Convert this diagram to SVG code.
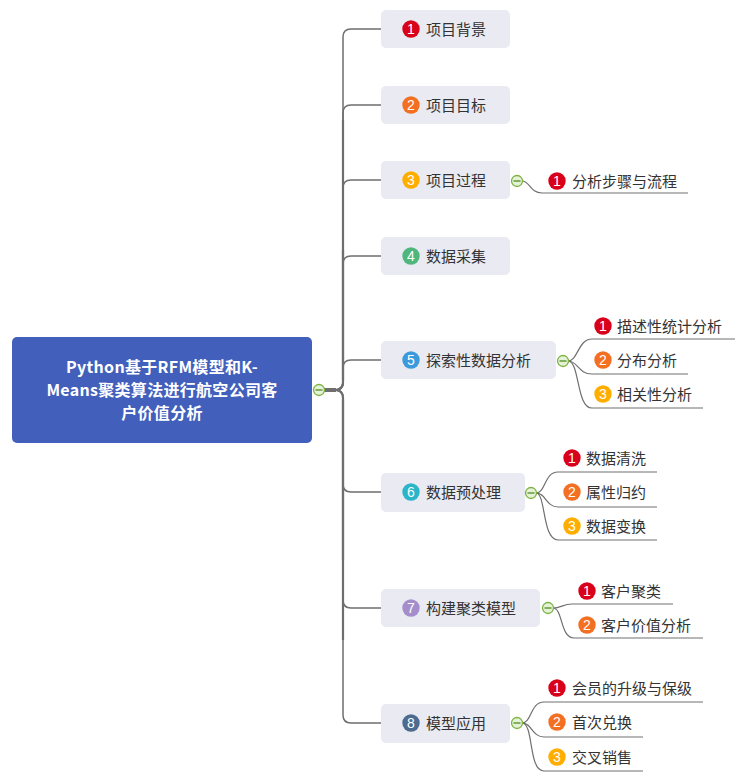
<svg xmlns="http://www.w3.org/2000/svg" width="752" height="782" viewBox="0 0 752 782">
<style>
.bg{fill:#ffffff}
.root{fill:#425FBC}
.rt{font-family:"Noto Sans CJK SC","Liberation Sans",sans-serif;font-size:16px;letter-spacing:0.3px;font-weight:bold;fill:#ffffff;text-anchor:middle}
.main{fill:#E9EAF2}
.t{font-family:"Noto Sans CJK SC","Liberation Sans",sans-serif;font-size:15px;fill:#333333}
.num{font-family:"Liberation Sans",sans-serif;font-size:14px;fill:#ffffff;text-anchor:middle}
.br{fill:none;stroke:#6e6e6e;stroke-width:1.5}
.trunk{fill:none;stroke:#6e6e6e;stroke-width:2.2}
.sub{fill:none;stroke:#707070;stroke-width:1.2}
.col{fill:#E6F2D8;stroke:#7CB342;stroke-width:1.3}
.mn{stroke:#4E8A1E;stroke-width:1.3}
.c1{fill:#D9001B}.c2{fill:#F36F21}.c3{fill:#FFAE00}.c4{fill:#4FB67D}.c5{fill:#3B9ADB}.c6{fill:#2AB5C9}.c7{fill:#A48DCB}.c8{fill:#4D6A8F}
</style>
<rect class="bg" x="0" y="0" width="752" height="782"/>
<g id="connectors">
  <path class="br" d="M325 390 H335 Q343 390 343 382 V37 Q343 29 351 29 H381"/>
  <path class="br" d="M325 390 H335 Q343 390 343 382 V113 Q343 105 351 105 H381"/>
  <path class="br" d="M325 390 H335 Q343 390 343 382 V188 Q343 180 351 180 H381"/>
  <path class="br" d="M325 390 H335 Q343 390 343 382 V264 Q343 256 351 256 H381"/>
  <path class="br" d="M325 390 H335 Q343 390 343 382 V368 Q343 360 351 360 H381"/>
  <path class="br" d="M325 390 H335 Q343 390 343 398 V484 Q343 492 351 492 H381"/>
  <path class="br" d="M325 390 H335 Q343 390 343 398 V600 Q343 608 351 608 H381"/>
  <path class="br" d="M325 390 H335 Q343 390 343 398 V715 Q343 723 351 723 H381"/>
  <path class="trunk" d="M343 120 V382 Q343 390 335 390 Q343 390 343 398 V640"/>
  <path fill="none" stroke="#6e6e6e" stroke-width="4" d="M324 390 H336"/>
  <path class="trunk" d="M343 250 V380"/>
  <path class="trunk" d="M343 400 V560"/>
  <path class="sub" d="M522 181 C530 181 530 193 542 193 H688"/>
  <path class="sub" d="M568 361 C578 361 578 339 592 339 H735"/>
  <path class="sub" d="M568 361 C578 361 578 374 592 374 H688"/>
  <path class="sub" d="M568 361 C580 361 576 408 592 408 H703"/>
  <path class="sub" d="M536 493 C546 493 544 472 558 472 H657"/>
  <path class="sub" d="M536 493 C546 493 546 507 558 507 H657"/>
  <path class="sub" d="M536 493 C546 493 542 540 558 540 H657"/>
  <path class="sub" d="M553 608 C561 608 563 604 572 604 H673"/>
  <path class="sub" d="M553 608 C563 608 560 638 574 638 H703"/>
  <path class="sub" d="M522 723 C532 723 530 702 544 702 H703"/>
  <path class="sub" d="M522 723 C532 723 532 737 544 737 H643"/>
  <path class="sub" d="M522 723 C534 723 528 771 544 771 H643"/>
</g>
<g id="root">
  <rect class="root" x="12" y="337" width="300" height="106" rx="5"/>
  <text class="rt" x="162" y="373">Python基于RFM模型和K-</text>
  <text class="rt" x="162" y="396">Means聚类算法进行航空公司客</text>
  <text class="rt" x="162" y="419">户价值分析</text>
  <circle class="col" cx="319" cy="390" r="5.5"/>
  <line class="mn" x1="315.5" y1="390" x2="322.5" y2="390"/>
</g>
<g id="n1">
  <rect class="main" x="381" y="10" width="129" height="38" rx="5"/>
  <circle class="c1" cx="411" cy="29" r="8.7"/><text class="num" x="411" y="34">1</text>
  <text class="t" x="426" y="34.5">项目背景</text>
</g>
<g id="n2">
  <rect class="main" x="381" y="86" width="129" height="38" rx="5"/>
  <circle class="c2" cx="411" cy="105" r="8.7"/><text class="num" x="411" y="110">2</text>
  <text class="t" x="426" y="110.5">项目目标</text>
</g>
<g id="n3">
  <rect class="main" x="381" y="161" width="129" height="38" rx="5"/>
  <circle class="c3" cx="411" cy="180" r="8.7"/><text class="num" x="411" y="185">3</text>
  <text class="t" x="426" y="185.5">项目过程</text>
  <circle class="col" cx="517" cy="181" r="5.5"/>
  <line class="mn" x1="513.5" y1="181" x2="520.5" y2="181"/>
</g>
<g id="n3-1">
  <circle class="c1" cx="557" cy="181" r="8.7"/><text class="num" x="557" y="186">1</text>
  <text class="t" x="572" y="186.5">分析步骤与流程</text>
</g>
<g id="n4">
  <rect class="main" x="381" y="237" width="129" height="38" rx="5"/>
  <circle class="c4" cx="411" cy="256" r="8.7"/><text class="num" x="411" y="261">4</text>
  <text class="t" x="426" y="261.5">数据采集</text>
</g>
<g id="n5">
  <rect class="main" x="381" y="341" width="175" height="38" rx="5"/>
  <circle class="c5" cx="411" cy="360" r="8.7"/><text class="num" x="411" y="365">5</text>
  <text class="t" x="426" y="365.5">探索性数据分析</text>
  <circle class="col" cx="563" cy="361" r="5.5"/>
  <line class="mn" x1="559.5" y1="361" x2="566.5" y2="361"/>
</g>
<g id="n5-1">
  <circle class="c1" cx="603" cy="326" r="8.7"/><text class="num" x="603" y="331">1</text>
  <text class="t" x="617" y="331.5">描述性统计分析</text>
</g>
<g id="n5-2">
  <circle class="c2" cx="603" cy="360" r="8.7"/><text class="num" x="603" y="365">2</text>
  <text class="t" x="617" y="365.5">分布分析</text>
</g>
<g id="n5-3">
  <circle class="c3" cx="603" cy="394" r="8.7"/><text class="num" x="603" y="399">3</text>
  <text class="t" x="617" y="399.5">相关性分析</text>
</g>
<g id="n6">
  <rect class="main" x="381" y="473" width="144" height="39" rx="5"/>
  <circle class="c6" cx="411" cy="492" r="8.7"/><text class="num" x="411" y="497">6</text>
  <text class="t" x="426" y="497.5">数据预处理</text>
  <circle class="col" cx="531" cy="493" r="5.5"/>
  <line class="mn" x1="527.5" y1="493" x2="534.5" y2="493"/>
</g>
<g id="n6-1">
  <circle class="c1" cx="572" cy="458" r="8.7"/><text class="num" x="572" y="463">1</text>
  <text class="t" x="586" y="463.5">数据清洗</text>
</g>
<g id="n6-2">
  <circle class="c2" cx="572" cy="492" r="8.7"/><text class="num" x="572" y="497">2</text>
  <text class="t" x="586" y="497.5">属性归约</text>
</g>
<g id="n6-3">
  <circle class="c3" cx="572" cy="526" r="8.7"/><text class="num" x="572" y="531">3</text>
  <text class="t" x="586" y="531.5">数据变换</text>
</g>
<g id="n7">
  <rect class="main" x="381" y="589" width="159" height="38" rx="5"/>
  <circle class="c7" cx="411" cy="608" r="8.7"/><text class="num" x="411" y="613">7</text>
  <text class="t" x="426" y="613.5">构建聚类模型</text>
  <circle class="col" cx="548" cy="608" r="5.5"/>
  <line class="mn" x1="544.5" y1="608" x2="551.5" y2="608"/>
</g>
<g id="n7-1">
  <circle class="c1" cx="587" cy="591" r="8.7"/><text class="num" x="587" y="596">1</text>
  <text class="t" x="601" y="596.5">客户聚类</text>
</g>
<g id="n7-2">
  <circle class="c2" cx="587" cy="625" r="8.7"/><text class="num" x="587" y="630">2</text>
  <text class="t" x="601" y="630.5">客户价值分析</text>
</g>
<g id="n8">
  <rect class="main" x="381" y="704" width="129" height="39" rx="5"/>
  <circle class="c8" cx="411" cy="723" r="8.7"/><text class="num" x="411" y="728">8</text>
  <text class="t" x="426" y="728.5">模型应用</text>
  <circle class="col" cx="517" cy="723" r="5.5"/>
  <line class="mn" x1="513.5" y1="723" x2="520.5" y2="723"/>
</g>
<g id="n8-1">
  <circle class="c1" cx="557" cy="688" r="8.7"/><text class="num" x="557" y="693">1</text>
  <text class="t" x="572" y="693.5">会员的升级与保级</text>
</g>
<g id="n8-2">
  <circle class="c2" cx="557" cy="722" r="8.7"/><text class="num" x="557" y="727">2</text>
  <text class="t" x="572" y="727.5">首次兑换</text>
</g>
<g id="n8-3">
  <circle class="c3" cx="557" cy="757" r="8.7"/><text class="num" x="557" y="762">3</text>
  <text class="t" x="572" y="762.5">交叉销售</text>
</g>
</svg>
